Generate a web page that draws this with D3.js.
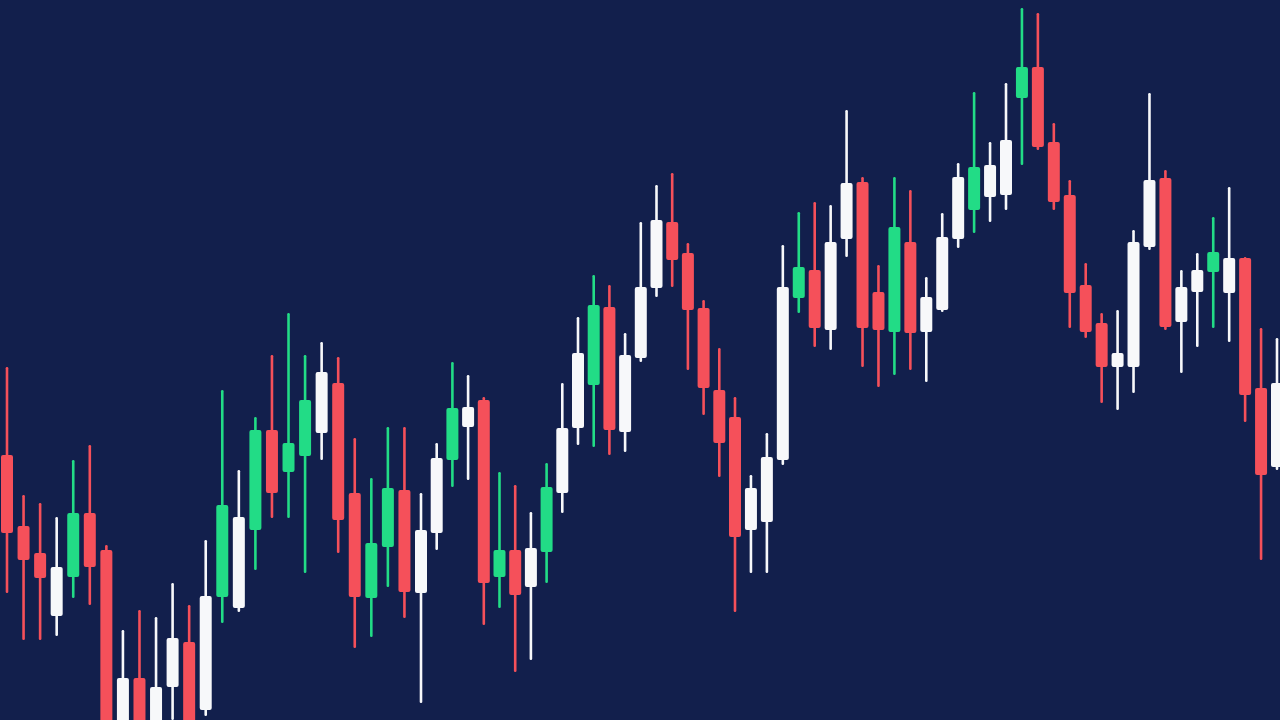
<!DOCTYPE html>
<html>
<head>
<meta charset="utf-8">
<script src="https://cdn.jsdelivr.net/npm/d3@7/dist/d3.min.js"></script>
<style>
  html, body { margin: 0; padding: 0; background: #121f4c; overflow: hidden; }
  svg { display: block; }
</style>
</head>
<body>
<svg id="chart" width="1280" height="720"></svg>
<script>
// Candle colour class: r = red, g = green, w = white
const kinds = ["r","r","r","w","g","r","r","w","r","w",
               "w","r","w","g","w","g","r","g","g","w",
               "r","r","g","g","r","w","w","g","w","r",
               "g","r","w","g","w","w","g","r","w","w",
               "w","r","r","r","r","r","w","w","w","g",
               "r","w","w","r","r","g","r","w","w","w",
               "g","w","w","g","r","r","r","r","r","w",
               "w","w","r","w","w","g","w","r","r","w"];
const opens  = [265,194,167,104,143,207,170,-40,42,-40,
                33,78,10,123,112,190,290,248,264,287,
                337,227,122,173,230,127,187,260,293,320,
                143,170,133,168,227,292,335,413,288,362,
                432,498,467,412,330,303,190,198,260,422,
                450,390,481,538,428,388,478,388,410,481,
                510,523,525,622,653,578,525,435,397,353,
                353,473,542,398,428,448,427,462,332,253];
const highs  = [353,225,217,203,260,275,175,90,110,103,
                137,115,180,330,250,303,365,407,365,378,
                363,282,242,293,293,227,277,358,345,323,
                248,235,208,257,337,403,445,435,387,498,
                535,547,477,420,372,323,245,287,475,508,
                518,515,610,543,455,543,530,443,507,557,
                628,578,637,712,707,597,540,457,407,410,
                490,627,550,450,467,503,533,463,392,382];
const lows   = [127,80,80,84,122,115,-40,-40,-40,-40,
                0,-40,4,97,108,150,202,202,147,260,
                167,72,83,133,102,17,170,233,240,95,
                112,48,60,137,207,275,273,265,268,358,
                423,433,350,305,243,108,147,147,255,407,
                373,370,463,353,333,345,350,338,408,472,
                487,498,510,555,570,510,392,382,317,310,
                327,470,390,347,373,392,378,298,160,250];
const closes = [187,160,142,153,207,153,-40,42,-40,33,
                82,-40,124,215,203,290,227,277,320,348,
                200,123,177,232,128,190,262,312,313,137,
                170,125,172,233,292,367,415,290,365,433,
                500,460,410,332,277,183,232,263,433,453,
                392,478,537,392,390,493,387,423,483,543,
                553,555,580,653,573,518,427,388,353,367,
                478,540,393,433,450,468,462,325,245,337];

const palette = { r: "#f5505a", g: "#22dc86", w: "#f7f8fa" };

const data = kinds.map((k, i) => ({
  i, kind: k, open: opens[i], high: highs[i], low: lows[i], close: closes[i]
}));

const W = 1280, H = 720;
const svg = d3.select("#chart");

// candles are not evenly spaced in the reference (slight perspective), so a piecewise linear index scale
const x = d3.scaleLinear().domain([0, 25, 45, 79]).range([7, 421, 735, 1277]);
const y = d3.scaleLinear().domain([0, 720]).range([H, 0]);

const bodyW = 12, wickW = 2.6;

const g = svg.append("g");

const candle = g.selectAll("g.candle").data(data).join("g").attr("class", "candle");

candle.append("rect")
  .attr("x", d => x(d.i) - wickW / 2)
  .attr("width", wickW)
  .attr("y", d => y(d.high))
  .attr("height", d => Math.max(0, y(d.low) - y(d.high)))
  .attr("rx", 1.2)
  .attr("fill", d => palette[d.kind]);

candle.append("rect")
  .attr("x", d => x(d.i) - bodyW / 2)
  .attr("width", bodyW)
  .attr("y", d => y(Math.max(d.open, d.close)))
  .attr("height", d => Math.max(2, Math.abs(y(d.open) - y(d.close))))
  .attr("rx", 2)
  .attr("fill", d => palette[d.kind]);
</script>
</body>
</html>
